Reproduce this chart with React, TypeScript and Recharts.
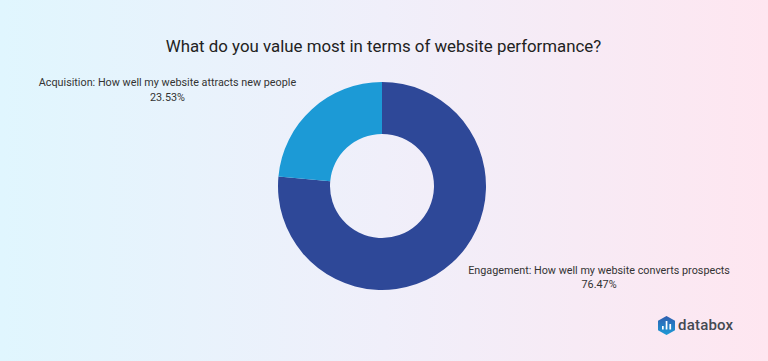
import React from "react";
import { PieChart, Pie, Cell } from "recharts";

const title = "What do you value most in terms of website performance?";
const categories = [
  "Engagement: How well my website converts prospects",
  "Acquisition: How well my website attracts new people",
];
const shares = [76.47, 23.53];
const colors = ["#2e4898", "#1c9ad6"];
const data = categories.map((name, i) => ({ name, value: shares[i] }));

const RAD = Math.PI / 180;
const FONT = "Roboto, sans-serif";

const renderLabel = (p: any) => {
  const { cx, cy, outerRadius, midAngle, name, value } = p;
  const px = cx + outerRadius * Math.cos(-midAngle * RAD);
  const py = cy + outerRadius * Math.sin(-midAngle * RAD);
  const right = px > cx;
  const x = right ? px + 147 : px - 144.5;
  const y = right ? py + 11 : py - 23;
  return (
    <text x={x} y={y} textAnchor="middle" fontFamily={FONT} fontSize={10.8} fill="#333">
      <tspan x={x}>{name}</tspan>
      <tspan x={x} dy={14.5}>{value.toFixed(2)}%</tspan>
    </text>
  );
};

export default function App() {
  return (
    <div
      style={{
        position: "absolute",
        left: 0,
        top: 0,
        width: 768,
        height: 361,
        overflow: "hidden",
        background: "linear-gradient(90deg, #e0f6fe 0%, #f0effa 50%, #fee6f0 100%)",
      }}
    >
      <PieChart width={768} height={361} margin={{ top: 0, right: 0, bottom: 0, left: 0 }}>
        <text x={383.5} y={52} textAnchor="middle" fontFamily={FONT} fontSize={16.85} fill="#222">
          {title}
        </text>
        <Pie
          data={data}
          dataKey="value"
          nameKey="name"
          cx={382}
          cy={186}
          innerRadius={52}
          outerRadius={104}
          startAngle={90}
          endAngle={-270}
          stroke="none"
          label={renderLabel}
          labelLine={false}
          isAnimationActive={false}
        >
          {data.map((d, i) => (
            <Cell key={d.name} fill={colors[i]} />
          ))}
        </Pie>
        <g>
          <defs>
            <linearGradient id="logoGrad" x1="0" y1="0" x2="0" y2="1">
              <stop offset="0%" stopColor="#2f5fb0" />
              <stop offset="100%" stopColor="#1c9ad6" />
            </linearGradient>
          </defs>
          <path d="M666.5 316 L675 320.7 L675 330.3 L666.5 335 L658 330.3 L658 320.7 Z" fill="url(#logoGrad)" />
          <rect x={662} y={326} width={1.7} height={3.5} fill="#fff" />
          <rect x={665.7} y={321} width={1.7} height={8.5} fill="#fff" />
          <rect x={669.4} y={324} width={1.7} height={5.5} fill="#fff" />
          <text x={678} y={330} fontFamily={FONT} fontSize={15} fontWeight={500} fill="#444a52" letterSpacing={0.2}>
            databox
          </text>
        </g>
      </PieChart>
    </div>
  );
}
